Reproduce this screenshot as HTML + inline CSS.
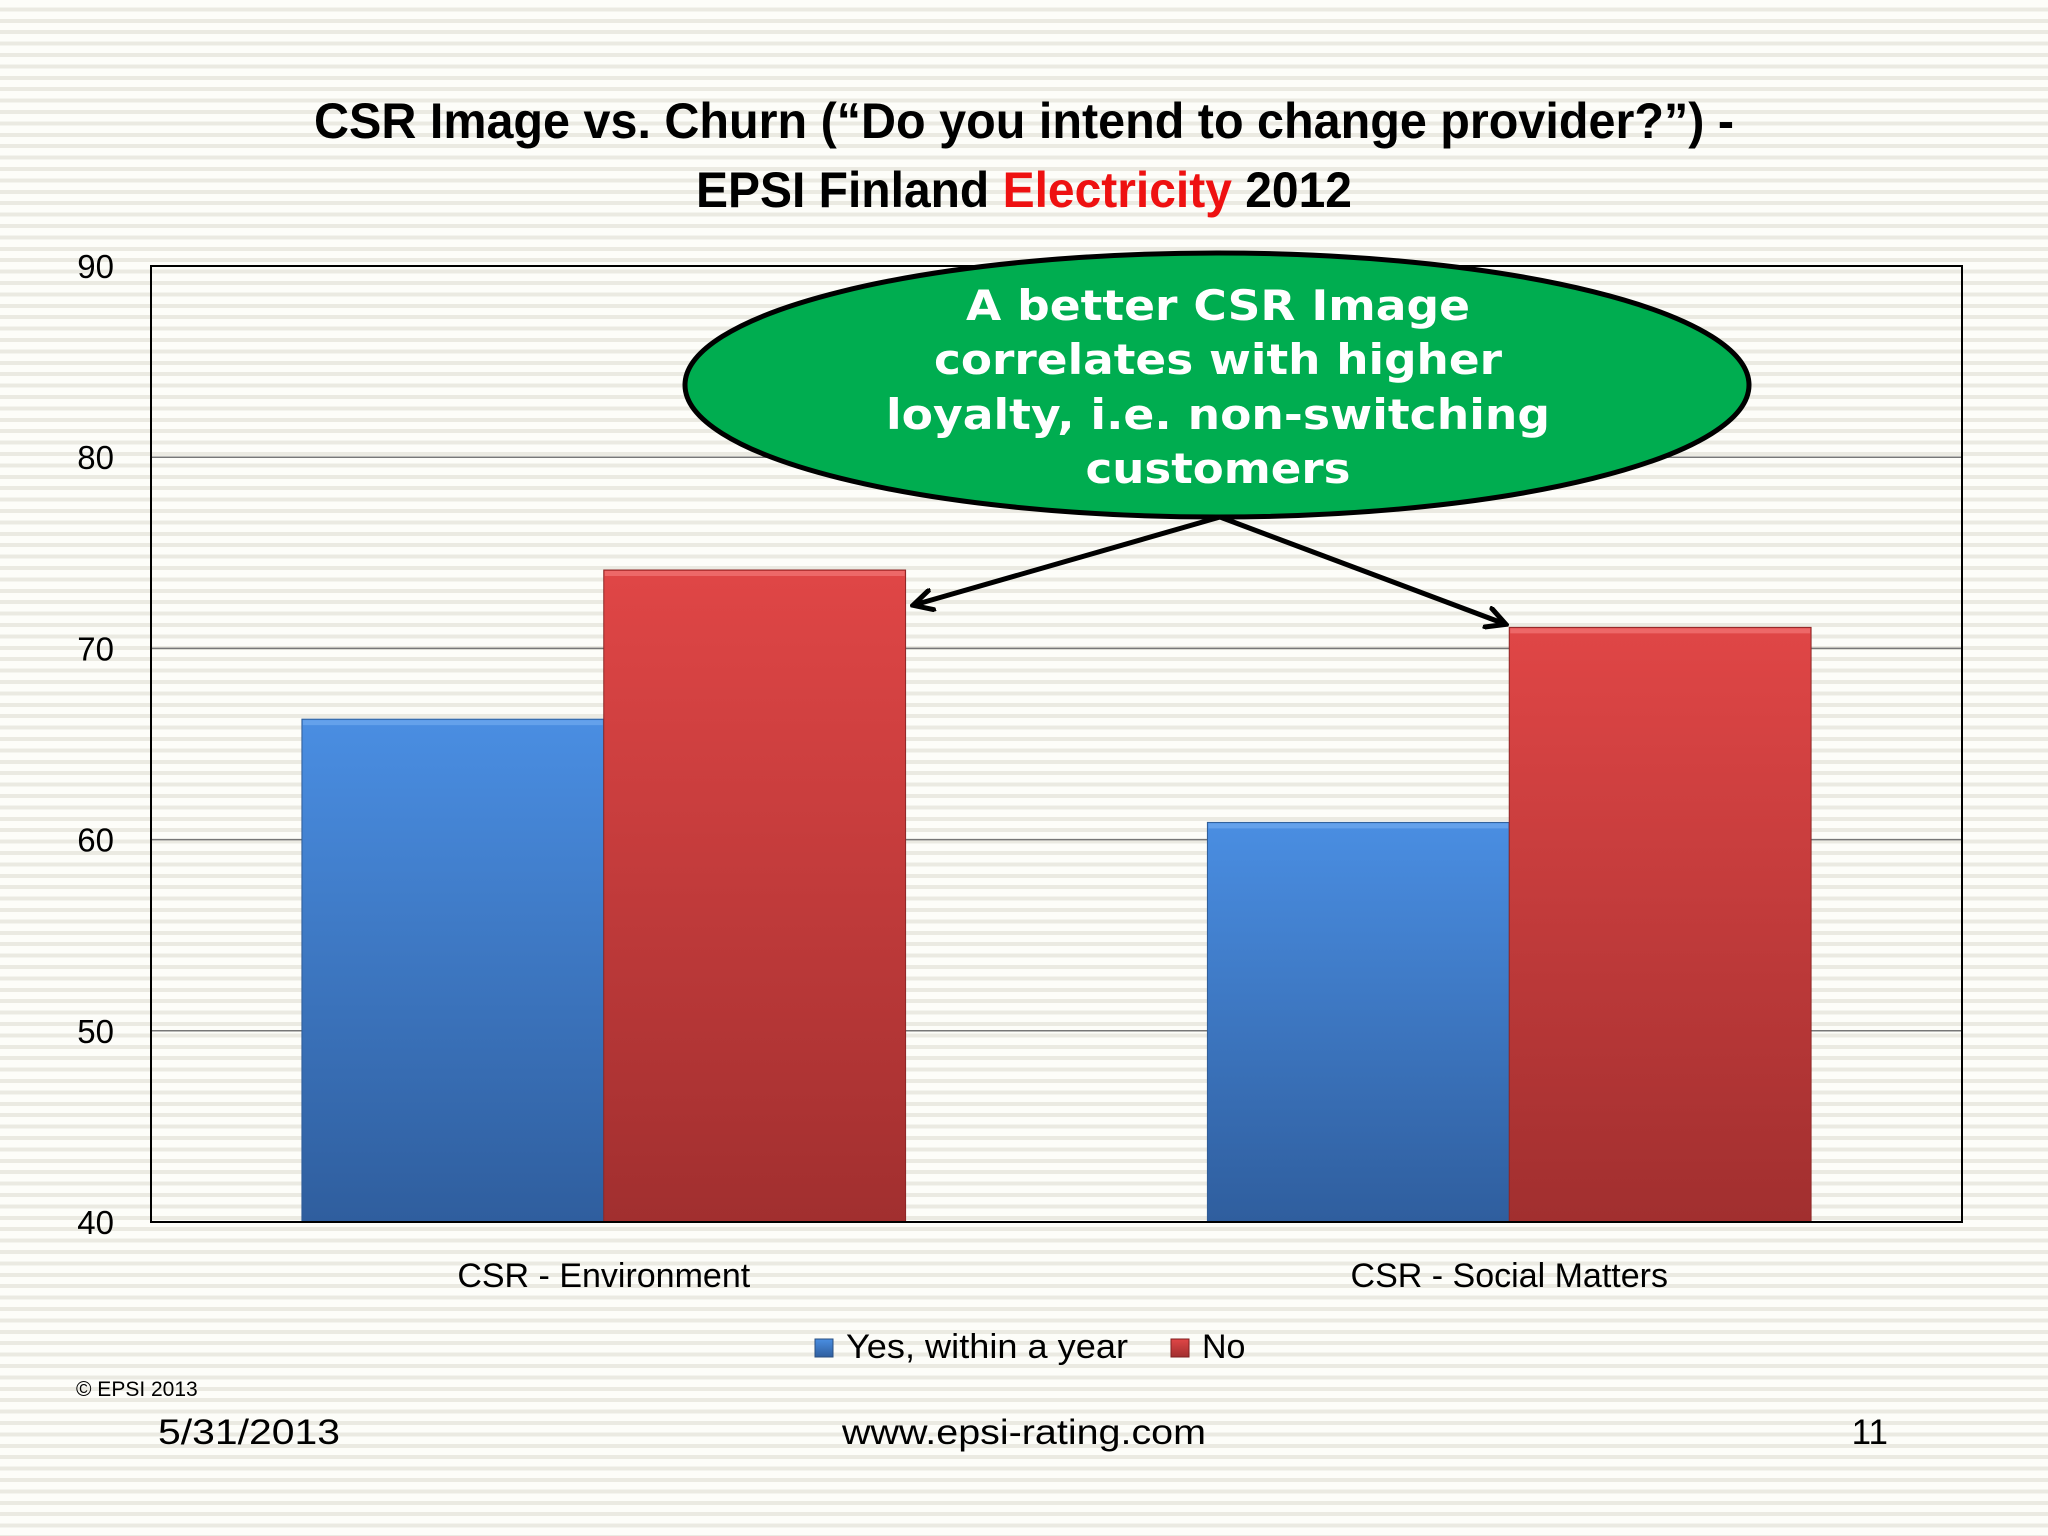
<!DOCTYPE html>
<html><head><meta charset="utf-8"><style>
html,body{margin:0;padding:0}
body{width:2048px;height:1536px;overflow:hidden;background:repeating-linear-gradient(180deg,#fdfdf9 0px,#fdfdf9 7.4px,#ebeae2 7.4px,#ebeae2 11.4px);font-family:"Liberation Sans",sans-serif}
svg{position:absolute;left:0;top:0}
</style></head><body>
<svg width="2048" height="1536" viewBox="0 0 2048 1536">
<defs>
<linearGradient id="gb" x1="0" y1="0" x2="0" y2="1"><stop offset="0" stop-color="#4a8ee2"/><stop offset="1" stop-color="#2f5e9e"/></linearGradient>
<linearGradient id="gr" x1="0" y1="0" x2="0" y2="1"><stop offset="0" stop-color="#e04646"/><stop offset="1" stop-color="#a12f2f"/></linearGradient>
<marker id="ah" markerWidth="24" markerHeight="24" refX="20" refY="12" orient="auto" markerUnits="userSpaceOnUse"><path d="M2,2 L21,12 L2,22" fill="none" stroke="#000" stroke-width="5" stroke-linecap="round"/></marker>
</defs>
<g id="titles">
<text x="1024" y="138" text-anchor="middle" font-weight="bold" font-size="50" textLength="1420" lengthAdjust="spacingAndGlyphs">CSR Image vs. Churn (“Do you intend to change provider?”) -</text>
<text x="1024" y="207" text-anchor="middle" font-weight="bold" font-size="50" textLength="656" lengthAdjust="spacingAndGlyphs">EPSI Finland <tspan fill="#ee1111">Electricity</tspan> 2012</text>
</g>
<g id="grid"></g>
<g id="bars"></g>
<rect x="151" y="266" width="1811" height="956" fill="none" stroke="#000" stroke-width="2"/>
<g id="ylabels"></g>
<g id="xlabels"></g>
<g>
<line x1="1220" y1="517" x2="914" y2="605" stroke="#000" stroke-width="5" marker-end="url(#ah)"/>
<line x1="1220" y1="517" x2="1505" y2="624" stroke="#000" stroke-width="5" marker-end="url(#ah)"/>
<ellipse cx="1217" cy="385" rx="532" ry="132" fill="#00ad50" stroke="#000" stroke-width="5"/>
<g font-family="'DejaVu Sans',sans-serif" font-weight="bold" font-size="42" fill="#fff" text-anchor="middle">
<text x="1218" y="320" textLength="504" lengthAdjust="spacingAndGlyphs">A better CSR Image</text>
<text x="1218" y="374" textLength="568" lengthAdjust="spacingAndGlyphs">correlates with higher</text>
<text x="1218" y="429" textLength="664" lengthAdjust="spacingAndGlyphs">loyalty, i.e. non-switching</text>
<text x="1218" y="483" textLength="265" lengthAdjust="spacingAndGlyphs">customers</text>
</g>
</g>
<g>
<rect x="815" y="1339" width="18" height="18" fill="url(#gb)" stroke="#2a4f80"/>
<text x="846" y="1358" font-size="34" textLength="282" lengthAdjust="spacingAndGlyphs">Yes, within a year</text>
<rect x="1171" y="1339" width="18" height="18" fill="url(#gr)" stroke="#802020"/>
<text x="1202" y="1358" font-size="34">No</text>
</g>
<text x="76" y="1396" font-size="21">© EPSI 2013</text>
<text x="158" y="1444" font-size="35" textLength="182" lengthAdjust="spacingAndGlyphs">5/31/2013</text>
<text x="1024" y="1444" font-size="35" text-anchor="middle" textLength="364" lengthAdjust="spacingAndGlyphs">www.epsi-rating.com</text>
<text x="1888" y="1444" font-size="35" text-anchor="end">11</text>
</svg>
<script>
const categories = ["CSR - Environment", "CSR - Social Matters"];
const seriesYes = [66.3, 60.9];
const seriesNo = [74.1, 71.1];
const yTicks = [40, 50, 60, 70, 80, 90];
const NS = "http://www.w3.org/2000/svg";
const PL = 151, PR = 1962, PT = 266, PB = 1222, YMIN = 40, YMAX = 90;
function y(v){ return PB - (v - YMIN) / (YMAX - YMIN) * (PB - PT); }
const catW = (PR - PL) / categories.length;
function xc(i){ return PL + catW * (i + 0.5); }
const barW = catW / 3;
function mk(tag, attrs, parent){ const e = document.createElementNS(NS, tag); for (const k in attrs) e.setAttribute(k, attrs[k]); parent.appendChild(e); return e; }
const grid = document.getElementById('grid'), bars = document.getElementById('bars'), yl = document.getElementById('ylabels'), xl = document.getElementById('xlabels');
yTicks.forEach(t => {
  const l = mk('line', {x1: PL, x2: PR, y1: y(t), y2: y(t), stroke: '#777', 'stroke-width': 1.5}, grid);
  
  
  const tx = mk('text', {x: 114, y: y(t) + 12, 'font-size': 33, 'text-anchor': 'end'}, yl);
  tx.textContent = t;
  
  
});
categories.forEach((c, i) => {
  const x0 = xc(i) - barW;
  const b1 = mk('rect', {x: x0, y: y(seriesYes[i]), width: barW, height: PB - y(seriesYes[i]), fill: 'url(#gb)', stroke: '#2f5c95', 'stroke-width': 1}, bars);
  
  
  const h1 = mk('rect', {x: x0 + 1, y: y(seriesYes[i]) + 1, width: barW - 2, height: 5, fill: '#6aa6ee', opacity: 0.8}, bars);
  
  
  const b2 = mk('rect', {x: x0 + barW, y: y(seriesNo[i]), width: barW, height: PB - y(seriesNo[i]), fill: 'url(#gr)', stroke: '#8c2626', 'stroke-width': 1}, bars);
  
  
  const h2 = mk('rect', {x: x0 + barW + 1, y: y(seriesNo[i]) + 1, width: barW - 2, height: 5, fill: '#f07070', opacity: 0.8}, bars);
  
  
  const t = mk('text', {x: xc(i), y: 1287, 'font-size': 34, 'text-anchor': 'middle'}, xl);
  t.textContent = c;
  
  
});
</script>
</body></html>
